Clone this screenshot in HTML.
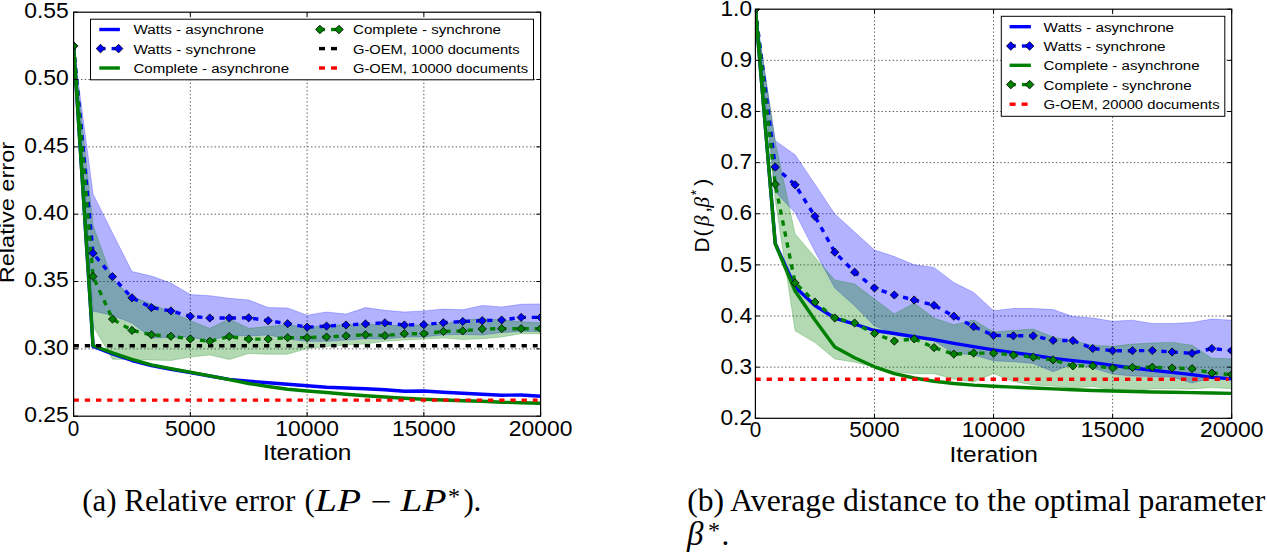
<!DOCTYPE html><html><head><meta charset="utf-8"><style>html,body{margin:0;padding:0;background:#fff;overflow:hidden}svg{display:block}</style></head><body><svg width="1267" height="552" viewBox="0 0 1267 552"><rect width="1267" height="552" fill="#fff"/><clipPath id="c1"><rect x="73.6" y="12.2" width="467" height="404"/></clipPath><line x1="190.35" y1="12.2" x2="190.35" y2="416.2" stroke="#3a3a3a" stroke-width="0.85" stroke-dasharray="1.4 2.31"/><line x1="307.1" y1="12.2" x2="307.1" y2="416.2" stroke="#3a3a3a" stroke-width="0.85" stroke-dasharray="1.4 2.31"/><line x1="423.85" y1="12.2" x2="423.85" y2="416.2" stroke="#3a3a3a" stroke-width="0.85" stroke-dasharray="1.4 2.31"/><line x1="73.6" y1="348.87" x2="540.6" y2="348.87" stroke="#3a3a3a" stroke-width="0.85" stroke-dasharray="1.4 2.31"/><line x1="73.6" y1="281.53" x2="540.6" y2="281.53" stroke="#3a3a3a" stroke-width="0.85" stroke-dasharray="1.4 2.31"/><line x1="73.6" y1="214.2" x2="540.6" y2="214.2" stroke="#3a3a3a" stroke-width="0.85" stroke-dasharray="1.4 2.31"/><line x1="73.6" y1="146.87" x2="540.6" y2="146.87" stroke="#3a3a3a" stroke-width="0.85" stroke-dasharray="1.4 2.31"/><line x1="73.6" y1="79.53" x2="540.6" y2="79.53" stroke="#3a3a3a" stroke-width="0.85" stroke-dasharray="1.4 2.31"/><polygon points="73.6,45.9 93.06,194 112.52,233 131.97,271.6 151.43,276 170.89,283 190.35,294.6 209.81,295.7 229.27,298.3 248.72,300 268.18,307.6 287.64,308 307.1,315.2 326.56,312 346.02,314.1 365.48,307.6 384.93,310.3 404.39,312 423.85,310.9 443.31,309.1 462.77,309.8 482.23,305.4 501.68,307 521.14,304.3 540.6,303.9 540.6,331.5 521.14,331.5 501.68,332.6 482.23,335 462.77,334.5 443.31,334.8 423.85,337 404.39,337 384.93,339 365.48,338.7 346.02,340 326.56,341.3 307.1,341.3 287.64,339 268.18,335 248.72,336 229.27,335 209.81,341 190.35,337 170.89,337.5 151.43,338 131.97,323 112.52,315.5 93.06,311 73.6,45.9" fill="rgba(0,0,255,0.3)" stroke="rgba(0,0,255,0.3)" stroke-width="0.8" stroke-linejoin="round" clip-path="url(#c1)"/><polygon points="73.6,45.9 93.06,225 112.52,280 131.97,296.5 151.43,304 170.89,312 190.35,320.7 209.81,328.3 229.27,319.1 248.72,328.3 268.18,326.5 287.64,324.5 307.1,327.8 326.56,325 346.02,325 365.48,324 384.93,325.3 404.39,325.6 423.85,325 443.31,324 462.77,320.2 482.23,318.5 501.68,320 521.14,321.7 540.6,322.8 540.6,333.7 521.14,333.7 501.68,337 482.23,338.7 462.77,339.5 443.31,338 423.85,339 404.39,340 384.93,341.3 365.48,344 346.02,345 326.56,346.5 307.1,348.5 287.64,354.2 268.18,354.2 248.72,353.5 229.27,359.5 209.81,355 190.35,357 170.89,360.5 151.43,360 131.97,359.5 112.52,359.3 93.06,326 73.6,45.9" fill="rgba(0,128,0,0.3)" stroke="rgba(0,128,0,0.3)" stroke-width="0.8" stroke-linejoin="round" clip-path="url(#c1)"/><polyline points="73.6,45.9 93.06,346.5 112.52,354 131.97,360.5 151.43,365.5 170.89,369.3 190.35,372.6 209.81,376 229.27,379.4 248.72,381.2 268.18,382.7 287.64,384.2 307.1,385.7 326.56,387.2 346.02,388 365.48,388.7 384.93,389.8 404.39,391.3 423.85,391 443.31,392.2 462.77,393.2 482.23,394.3 501.68,395.2 521.14,395 540.6,396.2" fill="none" stroke="#0000ff" stroke-width="3.4" stroke-linejoin="round" clip-path="url(#c1)"/><polyline points="73.6,45.9 93.06,253.3 112.52,276.7 131.97,297.8 151.43,307.6 170.89,310.9 190.35,316.3 209.81,318 229.27,318 248.72,317.8 268.18,320.7 287.64,323.7 307.1,327.2 326.56,326.1 346.02,325 365.48,323.9 384.93,322.8 404.39,325 423.85,324.6 443.31,322.8 462.77,321.5 482.23,320.7 501.68,320 521.14,317.4 540.6,317.4" fill="none" stroke="#0000ff" stroke-width="3.4" stroke-dasharray="5.3 5.9" clip-path="url(#c1)"/><polyline points="73.6,45.9 93.06,345.5 112.52,352.8 131.97,359.3 151.43,364.8 170.89,368.6 190.35,372.2 209.81,375.8 229.27,379.7 248.72,383.5 268.18,386.5 287.64,389.2 307.1,391 326.56,392.5 346.02,394.3 365.48,395.8 384.93,397 404.39,398.2 423.85,399.2 443.31,400 462.77,400.7 482.23,401.2 501.68,402.2 521.14,402.7 540.6,403.3" fill="none" stroke="#008000" stroke-width="3.4" stroke-linejoin="round" clip-path="url(#c1)"/><polyline points="73.6,45.9 93.06,276.5 112.52,319.1 131.97,330.4 151.43,334.8 170.89,336.3 190.35,338.9 209.81,341.3 229.27,336.5 248.72,339.1 268.18,339.1 287.64,337.7 307.1,337.6 326.56,337 346.02,335.9 365.48,334.8 384.93,335.6 404.39,333.7 423.85,333.7 443.31,331.5 462.77,330.9 482.23,329 501.68,328.7 521.14,328.7 540.6,328.7" fill="none" stroke="#008000" stroke-width="3.4" stroke-dasharray="5.3 5.9" clip-path="url(#c1)"/><line x1="73.6" y1="345.7" x2="537.6" y2="345.7" stroke="#000" stroke-width="3.4" stroke-dasharray="5.3 5.9"/><line x1="73.6" y1="400.1" x2="537.6" y2="400.1" stroke="#ff0000" stroke-width="3.4" stroke-dasharray="5.3 5.9"/><g clip-path="url(#c1)"><path d="M73.6 41.8L77.7 45.9L73.6 50L69.5 45.9Z" fill="#0000ff" stroke="#000" stroke-width="0.8"/><path d="M93.06 249.2L97.16 253.3L93.06 257.4L88.96 253.3Z" fill="#0000ff" stroke="#000" stroke-width="0.8"/><path d="M112.52 272.6L116.62 276.7L112.52 280.8L108.42 276.7Z" fill="#0000ff" stroke="#000" stroke-width="0.8"/><path d="M131.97 293.7L136.07 297.8L131.97 301.9L127.88 297.8Z" fill="#0000ff" stroke="#000" stroke-width="0.8"/><path d="M151.43 303.5L155.53 307.6L151.43 311.7L147.33 307.6Z" fill="#0000ff" stroke="#000" stroke-width="0.8"/><path d="M170.89 306.8L174.99 310.9L170.89 315L166.79 310.9Z" fill="#0000ff" stroke="#000" stroke-width="0.8"/><path d="M190.35 312.2L194.45 316.3L190.35 320.4L186.25 316.3Z" fill="#0000ff" stroke="#000" stroke-width="0.8"/><path d="M209.81 313.9L213.91 318L209.81 322.1L205.71 318Z" fill="#0000ff" stroke="#000" stroke-width="0.8"/><path d="M229.27 313.9L233.37 318L229.27 322.1L225.17 318Z" fill="#0000ff" stroke="#000" stroke-width="0.8"/><path d="M248.72 313.7L252.82 317.8L248.72 321.9L244.62 317.8Z" fill="#0000ff" stroke="#000" stroke-width="0.8"/><path d="M268.18 316.6L272.28 320.7L268.18 324.8L264.08 320.7Z" fill="#0000ff" stroke="#000" stroke-width="0.8"/><path d="M287.64 319.6L291.74 323.7L287.64 327.8L283.54 323.7Z" fill="#0000ff" stroke="#000" stroke-width="0.8"/><path d="M307.1 323.1L311.2 327.2L307.1 331.3L303 327.2Z" fill="#0000ff" stroke="#000" stroke-width="0.8"/><path d="M326.56 322L330.66 326.1L326.56 330.2L322.46 326.1Z" fill="#0000ff" stroke="#000" stroke-width="0.8"/><path d="M346.02 320.9L350.12 325L346.02 329.1L341.92 325Z" fill="#0000ff" stroke="#000" stroke-width="0.8"/><path d="M365.48 319.8L369.58 323.9L365.48 328L361.38 323.9Z" fill="#0000ff" stroke="#000" stroke-width="0.8"/><path d="M384.93 318.7L389.03 322.8L384.93 326.9L380.83 322.8Z" fill="#0000ff" stroke="#000" stroke-width="0.8"/><path d="M404.39 320.9L408.49 325L404.39 329.1L400.29 325Z" fill="#0000ff" stroke="#000" stroke-width="0.8"/><path d="M423.85 320.5L427.95 324.6L423.85 328.7L419.75 324.6Z" fill="#0000ff" stroke="#000" stroke-width="0.8"/><path d="M443.31 318.7L447.41 322.8L443.31 326.9L439.21 322.8Z" fill="#0000ff" stroke="#000" stroke-width="0.8"/><path d="M462.77 317.4L466.87 321.5L462.77 325.6L458.67 321.5Z" fill="#0000ff" stroke="#000" stroke-width="0.8"/><path d="M482.23 316.6L486.33 320.7L482.23 324.8L478.12 320.7Z" fill="#0000ff" stroke="#000" stroke-width="0.8"/><path d="M501.68 315.9L505.78 320L501.68 324.1L497.58 320Z" fill="#0000ff" stroke="#000" stroke-width="0.8"/><path d="M521.14 313.3L525.24 317.4L521.14 321.5L517.04 317.4Z" fill="#0000ff" stroke="#000" stroke-width="0.8"/><path d="M540.6 313.3L544.7 317.4L540.6 321.5L536.5 317.4Z" fill="#0000ff" stroke="#000" stroke-width="0.8"/><path d="M73.6 41.8L77.7 45.9L73.6 50L69.5 45.9Z" fill="#008000" stroke="#000" stroke-width="0.8"/><path d="M93.06 272.4L97.16 276.5L93.06 280.6L88.96 276.5Z" fill="#008000" stroke="#000" stroke-width="0.8"/><path d="M112.52 315L116.62 319.1L112.52 323.2L108.42 319.1Z" fill="#008000" stroke="#000" stroke-width="0.8"/><path d="M131.97 326.3L136.07 330.4L131.97 334.5L127.88 330.4Z" fill="#008000" stroke="#000" stroke-width="0.8"/><path d="M151.43 330.7L155.53 334.8L151.43 338.9L147.33 334.8Z" fill="#008000" stroke="#000" stroke-width="0.8"/><path d="M170.89 332.2L174.99 336.3L170.89 340.4L166.79 336.3Z" fill="#008000" stroke="#000" stroke-width="0.8"/><path d="M190.35 334.8L194.45 338.9L190.35 343L186.25 338.9Z" fill="#008000" stroke="#000" stroke-width="0.8"/><path d="M209.81 337.2L213.91 341.3L209.81 345.4L205.71 341.3Z" fill="#008000" stroke="#000" stroke-width="0.8"/><path d="M229.27 332.4L233.37 336.5L229.27 340.6L225.17 336.5Z" fill="#008000" stroke="#000" stroke-width="0.8"/><path d="M248.72 335L252.82 339.1L248.72 343.2L244.62 339.1Z" fill="#008000" stroke="#000" stroke-width="0.8"/><path d="M268.18 335L272.28 339.1L268.18 343.2L264.08 339.1Z" fill="#008000" stroke="#000" stroke-width="0.8"/><path d="M287.64 333.6L291.74 337.7L287.64 341.8L283.54 337.7Z" fill="#008000" stroke="#000" stroke-width="0.8"/><path d="M307.1 333.5L311.2 337.6L307.1 341.7L303 337.6Z" fill="#008000" stroke="#000" stroke-width="0.8"/><path d="M326.56 332.9L330.66 337L326.56 341.1L322.46 337Z" fill="#008000" stroke="#000" stroke-width="0.8"/><path d="M346.02 331.8L350.12 335.9L346.02 340L341.92 335.9Z" fill="#008000" stroke="#000" stroke-width="0.8"/><path d="M365.48 330.7L369.58 334.8L365.48 338.9L361.38 334.8Z" fill="#008000" stroke="#000" stroke-width="0.8"/><path d="M384.93 331.5L389.03 335.6L384.93 339.7L380.83 335.6Z" fill="#008000" stroke="#000" stroke-width="0.8"/><path d="M404.39 329.6L408.49 333.7L404.39 337.8L400.29 333.7Z" fill="#008000" stroke="#000" stroke-width="0.8"/><path d="M423.85 329.6L427.95 333.7L423.85 337.8L419.75 333.7Z" fill="#008000" stroke="#000" stroke-width="0.8"/><path d="M443.31 327.4L447.41 331.5L443.31 335.6L439.21 331.5Z" fill="#008000" stroke="#000" stroke-width="0.8"/><path d="M462.77 326.8L466.87 330.9L462.77 335L458.67 330.9Z" fill="#008000" stroke="#000" stroke-width="0.8"/><path d="M482.23 324.9L486.33 329L482.23 333.1L478.12 329Z" fill="#008000" stroke="#000" stroke-width="0.8"/><path d="M501.68 324.6L505.78 328.7L501.68 332.8L497.58 328.7Z" fill="#008000" stroke="#000" stroke-width="0.8"/><path d="M521.14 324.6L525.24 328.7L521.14 332.8L517.04 328.7Z" fill="#008000" stroke="#000" stroke-width="0.8"/><path d="M540.6 324.6L544.7 328.7L540.6 332.8L536.5 328.7Z" fill="#008000" stroke="#000" stroke-width="0.8"/></g><rect x="73.6" y="12.2" width="467" height="404" fill="none" stroke="#000" stroke-width="1.2"/><line x1="73.6" y1="416.2" x2="73.6" y2="411.9" stroke="#000" stroke-width="1"/><line x1="73.6" y1="12.2" x2="73.6" y2="16.5" stroke="#000" stroke-width="1"/><line x1="190.35" y1="416.2" x2="190.35" y2="411.9" stroke="#000" stroke-width="1"/><line x1="190.35" y1="12.2" x2="190.35" y2="16.5" stroke="#000" stroke-width="1"/><line x1="307.1" y1="416.2" x2="307.1" y2="411.9" stroke="#000" stroke-width="1"/><line x1="307.1" y1="12.2" x2="307.1" y2="16.5" stroke="#000" stroke-width="1"/><line x1="423.85" y1="416.2" x2="423.85" y2="411.9" stroke="#000" stroke-width="1"/><line x1="423.85" y1="12.2" x2="423.85" y2="16.5" stroke="#000" stroke-width="1"/><line x1="540.6" y1="416.2" x2="540.6" y2="411.9" stroke="#000" stroke-width="1"/><line x1="540.6" y1="12.2" x2="540.6" y2="16.5" stroke="#000" stroke-width="1"/><line x1="73.6" y1="416.2" x2="77.9" y2="416.2" stroke="#000" stroke-width="1"/><line x1="540.6" y1="416.2" x2="536.3" y2="416.2" stroke="#000" stroke-width="1"/><line x1="73.6" y1="348.87" x2="77.9" y2="348.87" stroke="#000" stroke-width="1"/><line x1="540.6" y1="348.87" x2="536.3" y2="348.87" stroke="#000" stroke-width="1"/><line x1="73.6" y1="281.53" x2="77.9" y2="281.53" stroke="#000" stroke-width="1"/><line x1="540.6" y1="281.53" x2="536.3" y2="281.53" stroke="#000" stroke-width="1"/><line x1="73.6" y1="214.2" x2="77.9" y2="214.2" stroke="#000" stroke-width="1"/><line x1="540.6" y1="214.2" x2="536.3" y2="214.2" stroke="#000" stroke-width="1"/><line x1="73.6" y1="146.87" x2="77.9" y2="146.87" stroke="#000" stroke-width="1"/><line x1="540.6" y1="146.87" x2="536.3" y2="146.87" stroke="#000" stroke-width="1"/><line x1="73.6" y1="79.53" x2="77.9" y2="79.53" stroke="#000" stroke-width="1"/><line x1="540.6" y1="79.53" x2="536.3" y2="79.53" stroke="#000" stroke-width="1"/><line x1="73.6" y1="12.2" x2="77.9" y2="12.2" stroke="#000" stroke-width="1"/><line x1="540.6" y1="12.2" x2="536.3" y2="12.2" stroke="#000" stroke-width="1"/><text x="68.8" y="421.9" font-size="21.8" text-anchor="end" textLength="44.5" lengthAdjust="spacingAndGlyphs" font-family='"Liberation Sans", sans-serif'>0.25</text><text x="68.8" y="354.57" font-size="21.8" text-anchor="end" textLength="44.5" lengthAdjust="spacingAndGlyphs" font-family='"Liberation Sans", sans-serif'>0.30</text><text x="68.8" y="287.23" font-size="21.8" text-anchor="end" textLength="44.5" lengthAdjust="spacingAndGlyphs" font-family='"Liberation Sans", sans-serif'>0.35</text><text x="68.8" y="219.9" font-size="21.8" text-anchor="end" textLength="44.5" lengthAdjust="spacingAndGlyphs" font-family='"Liberation Sans", sans-serif'>0.40</text><text x="68.8" y="152.57" font-size="21.8" text-anchor="end" textLength="44.5" lengthAdjust="spacingAndGlyphs" font-family='"Liberation Sans", sans-serif'>0.45</text><text x="68.8" y="85.23" font-size="21.8" text-anchor="end" textLength="44.5" lengthAdjust="spacingAndGlyphs" font-family='"Liberation Sans", sans-serif'>0.50</text><text x="68.8" y="17.9" font-size="21.8" text-anchor="end" textLength="44.5" lengthAdjust="spacingAndGlyphs" font-family='"Liberation Sans", sans-serif'>0.55</text><text x="73.6" y="435.6" font-size="21.8" text-anchor="middle" textLength="11.5" lengthAdjust="spacingAndGlyphs" font-family='"Liberation Sans", sans-serif'>0</text><text x="190.35" y="435.6" font-size="21.8" text-anchor="middle" textLength="50.5" lengthAdjust="spacingAndGlyphs" font-family='"Liberation Sans", sans-serif'>5000</text><text x="307.1" y="435.6" font-size="21.8" text-anchor="middle" textLength="63.5" lengthAdjust="spacingAndGlyphs" font-family='"Liberation Sans", sans-serif'>10000</text><text x="423.85" y="435.6" font-size="21.8" text-anchor="middle" textLength="63.5" lengthAdjust="spacingAndGlyphs" font-family='"Liberation Sans", sans-serif'>15000</text><text x="540.6" y="435.6" font-size="21.8" text-anchor="middle" textLength="63.5" lengthAdjust="spacingAndGlyphs" font-family='"Liberation Sans", sans-serif'>20000</text><text x="307.2" y="459.8" font-size="21.4" text-anchor="middle" textLength="88.5" lengthAdjust="spacingAndGlyphs" font-family='"Liberation Sans", sans-serif'>Iteration</text><text transform="translate(14.2,212.6) rotate(-90)" x="0" y="0" font-size="20.6" text-anchor="middle" textLength="141.5" lengthAdjust="spacingAndGlyphs" font-family='"Liberation Sans", sans-serif'>Relative error</text><rect x="90.5" y="19.2" width="443" height="60.6" fill="#fff" stroke="#000" stroke-width="1"/><line x1="99.3" y1="29.5" x2="119.9" y2="29.5" stroke="#0000ff" stroke-width="3.4"/><line x1="99.3" y1="48.6" x2="105.5" y2="48.6" stroke="#0000ff" stroke-width="3.4"/><line x1="111.6" y1="48.6" x2="119.9" y2="48.6" stroke="#0000ff" stroke-width="3.4"/><path d="M100.5 44.3L104.8 48.6L100.5 52.9L96.2 48.6Z" fill="#0000ff" stroke="#000" stroke-width="0.8"/><path d="M118.6 44.3L122.9 48.6L118.6 52.9L114.3 48.6Z" fill="#0000ff" stroke="#000" stroke-width="0.8"/><line x1="99.3" y1="68" x2="119.9" y2="68" stroke="#008000" stroke-width="3.4"/><line x1="318.7" y1="29.5" x2="324.9" y2="29.5" stroke="#008000" stroke-width="3.4"/><line x1="331" y1="29.5" x2="340.3" y2="29.5" stroke="#008000" stroke-width="3.4"/><path d="M319.9 25.2L324.2 29.5L319.9 33.8L315.6 29.5Z" fill="#008000" stroke="#000" stroke-width="0.8"/><path d="M339 25.2L343.3 29.5L339 33.8L334.7 29.5Z" fill="#008000" stroke="#000" stroke-width="0.8"/><line x1="319" y1="48.6" x2="325" y2="48.6" stroke="#000" stroke-width="3.4"/><line x1="331" y1="48.6" x2="337" y2="48.6" stroke="#000" stroke-width="3.4"/><line x1="319" y1="68" x2="325" y2="68" stroke="#ff0000" stroke-width="3.4"/><line x1="331" y1="68" x2="337" y2="68" stroke="#ff0000" stroke-width="3.4"/><text x="133.5" y="34.4" font-size="13.7" text-anchor="start" textLength="130.5" lengthAdjust="spacingAndGlyphs" font-family='"Liberation Sans", sans-serif'>Watts - asynchrone</text><text x="133.5" y="53.5" font-size="13.7" text-anchor="start" textLength="122.5" lengthAdjust="spacingAndGlyphs" font-family='"Liberation Sans", sans-serif'>Watts - synchrone</text><text x="133.5" y="72.9" font-size="13.7" text-anchor="start" textLength="155.5" lengthAdjust="spacingAndGlyphs" font-family='"Liberation Sans", sans-serif'>Complete - asynchrone</text><text x="353" y="34.4" font-size="13.7" text-anchor="start" textLength="148" lengthAdjust="spacingAndGlyphs" font-family='"Liberation Sans", sans-serif'>Complete - synchrone</text><text x="353" y="53.5" font-size="13.7" text-anchor="start" textLength="166.5" lengthAdjust="spacingAndGlyphs" font-family='"Liberation Sans", sans-serif'>G-OEM, 1000 documents</text><text x="353" y="72.9" font-size="13.7" text-anchor="start" textLength="175" lengthAdjust="spacingAndGlyphs" font-family='"Liberation Sans", sans-serif'>G-OEM, 10000 documents</text><clipPath id="c2"><rect x="755.4" y="9.2" width="476.3" height="409.1"/></clipPath><line x1="874.48" y1="9.2" x2="874.48" y2="418.3" stroke="#3a3a3a" stroke-width="0.85" stroke-dasharray="1.4 2.31"/><line x1="993.55" y1="9.2" x2="993.55" y2="418.3" stroke="#3a3a3a" stroke-width="0.85" stroke-dasharray="1.4 2.31"/><line x1="1112.62" y1="9.2" x2="1112.62" y2="418.3" stroke="#3a3a3a" stroke-width="0.85" stroke-dasharray="1.4 2.31"/><line x1="755.4" y1="367.16" x2="1231.7" y2="367.16" stroke="#3a3a3a" stroke-width="0.85" stroke-dasharray="1.4 2.31"/><line x1="755.4" y1="316.02" x2="1231.7" y2="316.02" stroke="#3a3a3a" stroke-width="0.85" stroke-dasharray="1.4 2.31"/><line x1="755.4" y1="264.89" x2="1231.7" y2="264.89" stroke="#3a3a3a" stroke-width="0.85" stroke-dasharray="1.4 2.31"/><line x1="755.4" y1="213.75" x2="1231.7" y2="213.75" stroke="#3a3a3a" stroke-width="0.85" stroke-dasharray="1.4 2.31"/><line x1="755.4" y1="162.61" x2="1231.7" y2="162.61" stroke="#3a3a3a" stroke-width="0.85" stroke-dasharray="1.4 2.31"/><line x1="755.4" y1="111.47" x2="1231.7" y2="111.47" stroke="#3a3a3a" stroke-width="0.85" stroke-dasharray="1.4 2.31"/><line x1="755.4" y1="60.34" x2="1231.7" y2="60.34" stroke="#3a3a3a" stroke-width="0.85" stroke-dasharray="1.4 2.31"/><polygon points="755.4,9.5 775.25,140.7 795.09,154.8 814.94,184.2 834.78,214 854.63,232 874.48,250 894.32,256.5 914.17,264.8 934.01,267.4 953.86,282.6 973.7,292.5 993.55,310.7 1013.4,308.5 1033.24,308.5 1053.09,309.6 1072.93,316.5 1092.78,318 1112.62,321.3 1132.47,320.2 1152.32,323.5 1172.16,323.5 1192.01,322.4 1211.85,319.1 1231.7,320.2 1231.7,378 1211.85,378 1192.01,383 1172.16,377 1152.32,376.5 1132.47,376 1112.62,374 1092.78,368 1072.93,364 1053.09,371.7 1033.24,363.5 1013.4,361.7 993.55,360.8 973.7,355 953.86,353 934.01,341 914.17,337 894.32,333 874.48,326 854.63,305.7 834.78,288 814.94,251.5 795.09,212.8 775.25,191.7 755.4,9.5" fill="rgba(0,0,255,0.3)" stroke="rgba(0,0,255,0.3)" stroke-width="0.8" stroke-linejoin="round" clip-path="url(#c2)"/><polygon points="755.4,9.5 775.25,142 795.09,233.8 814.94,257.3 834.78,280 854.63,284 874.48,299 894.32,313.9 914.17,303 934.01,318 953.86,324.8 973.7,320 993.55,332 1013.4,330.5 1033.24,329 1053.09,337 1072.93,341 1092.78,345.2 1112.62,346.3 1132.47,344.1 1152.32,343 1172.16,342.4 1192.01,345.2 1211.85,358.3 1231.7,358.7 1231.7,388.7 1211.85,387.6 1192.01,389 1172.16,388.7 1152.32,388.7 1132.47,391 1112.62,390 1092.78,386.5 1072.93,388 1053.09,386 1033.24,385 1013.4,381.6 993.55,373.5 973.7,382 953.86,379 934.01,373.7 914.17,373.7 894.32,372 874.48,367 854.63,362.2 834.78,358.9 814.94,342.6 795.09,330.7 775.25,200 755.4,9.5" fill="rgba(0,128,0,0.3)" stroke="rgba(0,128,0,0.3)" stroke-width="0.8" stroke-linejoin="round" clip-path="url(#c2)"/><polyline points="755.4,9.5 775.25,243.5 795.09,287 814.94,305.5 834.78,318 854.63,324.1 874.48,330.5 894.32,333.5 914.17,336.7 934.01,339.6 953.86,343.3 973.7,346.6 993.55,349.9 1013.4,352.6 1033.24,355.3 1053.09,358.4 1072.93,360.6 1092.78,362.6 1112.62,365.4 1132.47,368 1152.32,370.2 1172.16,372.4 1192.01,374.6 1211.85,377.4 1231.7,378.9" fill="none" stroke="#0000ff" stroke-width="3.4" stroke-linejoin="round" clip-path="url(#c2)"/><polyline points="755.4,9.5 775.25,167 795.09,184.8 814.94,216.3 834.78,252.2 854.63,272.2 874.48,288 894.32,295 914.17,300 934.01,305.3 953.86,316.2 973.7,326.7 993.55,335.3 1013.4,335.8 1033.24,335.8 1053.09,340.4 1072.93,340.6 1092.78,348.5 1112.62,350.7 1132.47,350.7 1152.32,350.5 1172.16,352 1192.01,353.3 1211.85,348.5 1231.7,350.7" fill="none" stroke="#0000ff" stroke-width="3.4" stroke-dasharray="5.3 5.9" clip-path="url(#c2)"/><polyline points="755.4,9.5 775.25,244 795.09,291 814.94,320 834.78,347 854.63,357.8 874.48,366.8 894.32,373.7 914.17,378 934.01,381.3 953.86,383.5 973.7,385.1 993.55,386.2 1013.4,387.1 1033.24,388 1053.09,388.9 1072.93,389.8 1092.78,390.5 1112.62,391 1132.47,391.5 1152.32,392 1172.16,392.3 1192.01,392.6 1211.85,393 1231.7,393.4" fill="none" stroke="#008000" stroke-width="3.4" stroke-linejoin="round" clip-path="url(#c2)"/><polyline points="755.4,9.5 775.25,184.3 795.09,283 814.94,302 834.78,318 854.63,323 874.48,333.5 894.32,341.1 914.17,338.9 934.01,347.6 953.86,354.1 973.7,353.1 993.55,353.2 1013.4,355 1033.24,357.2 1053.09,359.9 1072.93,365.9 1092.78,365.9 1112.62,368 1132.47,367.4 1152.32,367.2 1172.16,368 1192.01,368.7 1211.85,373 1231.7,374.6" fill="none" stroke="#008000" stroke-width="3.4" stroke-dasharray="5.3 5.9" clip-path="url(#c2)"/><line x1="755.4" y1="379.3" x2="1228.7" y2="379.3" stroke="#ff0000" stroke-width="3.4" stroke-dasharray="5.3 5.9"/><g clip-path="url(#c2)"><path d="M755.4 5.4L759.5 9.5L755.4 13.6L751.3 9.5Z" fill="#0000ff" stroke="#000" stroke-width="0.8"/><path d="M775.25 162.9L779.35 167L775.25 171.1L771.15 167Z" fill="#0000ff" stroke="#000" stroke-width="0.8"/><path d="M795.09 180.7L799.19 184.8L795.09 188.9L790.99 184.8Z" fill="#0000ff" stroke="#000" stroke-width="0.8"/><path d="M814.94 212.2L819.04 216.3L814.94 220.4L810.84 216.3Z" fill="#0000ff" stroke="#000" stroke-width="0.8"/><path d="M834.78 248.1L838.88 252.2L834.78 256.3L830.68 252.2Z" fill="#0000ff" stroke="#000" stroke-width="0.8"/><path d="M854.63 268.1L858.73 272.2L854.63 276.3L850.53 272.2Z" fill="#0000ff" stroke="#000" stroke-width="0.8"/><path d="M874.48 283.9L878.58 288L874.48 292.1L870.38 288Z" fill="#0000ff" stroke="#000" stroke-width="0.8"/><path d="M894.32 290.9L898.42 295L894.32 299.1L890.22 295Z" fill="#0000ff" stroke="#000" stroke-width="0.8"/><path d="M914.17 295.9L918.27 300L914.17 304.1L910.07 300Z" fill="#0000ff" stroke="#000" stroke-width="0.8"/><path d="M934.01 301.2L938.11 305.3L934.01 309.4L929.91 305.3Z" fill="#0000ff" stroke="#000" stroke-width="0.8"/><path d="M953.86 312.1L957.96 316.2L953.86 320.3L949.76 316.2Z" fill="#0000ff" stroke="#000" stroke-width="0.8"/><path d="M973.7 322.6L977.8 326.7L973.7 330.8L969.6 326.7Z" fill="#0000ff" stroke="#000" stroke-width="0.8"/><path d="M993.55 331.2L997.65 335.3L993.55 339.4L989.45 335.3Z" fill="#0000ff" stroke="#000" stroke-width="0.8"/><path d="M1013.4 331.7L1017.5 335.8L1013.4 339.9L1009.3 335.8Z" fill="#0000ff" stroke="#000" stroke-width="0.8"/><path d="M1033.24 331.7L1037.34 335.8L1033.24 339.9L1029.14 335.8Z" fill="#0000ff" stroke="#000" stroke-width="0.8"/><path d="M1053.09 336.3L1057.19 340.4L1053.09 344.5L1048.99 340.4Z" fill="#0000ff" stroke="#000" stroke-width="0.8"/><path d="M1072.93 336.5L1077.03 340.6L1072.93 344.7L1068.83 340.6Z" fill="#0000ff" stroke="#000" stroke-width="0.8"/><path d="M1092.78 344.4L1096.88 348.5L1092.78 352.6L1088.68 348.5Z" fill="#0000ff" stroke="#000" stroke-width="0.8"/><path d="M1112.62 346.6L1116.72 350.7L1112.62 354.8L1108.53 350.7Z" fill="#0000ff" stroke="#000" stroke-width="0.8"/><path d="M1132.47 346.6L1136.57 350.7L1132.47 354.8L1128.37 350.7Z" fill="#0000ff" stroke="#000" stroke-width="0.8"/><path d="M1152.32 346.4L1156.42 350.5L1152.32 354.6L1148.22 350.5Z" fill="#0000ff" stroke="#000" stroke-width="0.8"/><path d="M1172.16 347.9L1176.26 352L1172.16 356.1L1168.06 352Z" fill="#0000ff" stroke="#000" stroke-width="0.8"/><path d="M1192.01 349.2L1196.11 353.3L1192.01 357.4L1187.91 353.3Z" fill="#0000ff" stroke="#000" stroke-width="0.8"/><path d="M1211.85 344.4L1215.95 348.5L1211.85 352.6L1207.75 348.5Z" fill="#0000ff" stroke="#000" stroke-width="0.8"/><path d="M1231.7 346.6L1235.8 350.7L1231.7 354.8L1227.6 350.7Z" fill="#0000ff" stroke="#000" stroke-width="0.8"/><path d="M755.4 5.4L759.5 9.5L755.4 13.6L751.3 9.5Z" fill="#008000" stroke="#000" stroke-width="0.8"/><path d="M775.25 180.2L779.35 184.3L775.25 188.4L771.15 184.3Z" fill="#008000" stroke="#000" stroke-width="0.8"/><path d="M795.09 278.9L799.19 283L795.09 287.1L790.99 283Z" fill="#008000" stroke="#000" stroke-width="0.8"/><path d="M814.94 297.9L819.04 302L814.94 306.1L810.84 302Z" fill="#008000" stroke="#000" stroke-width="0.8"/><path d="M834.78 313.9L838.88 318L834.78 322.1L830.68 318Z" fill="#008000" stroke="#000" stroke-width="0.8"/><path d="M854.63 318.9L858.73 323L854.63 327.1L850.53 323Z" fill="#008000" stroke="#000" stroke-width="0.8"/><path d="M874.48 329.4L878.58 333.5L874.48 337.6L870.38 333.5Z" fill="#008000" stroke="#000" stroke-width="0.8"/><path d="M894.32 337L898.42 341.1L894.32 345.2L890.22 341.1Z" fill="#008000" stroke="#000" stroke-width="0.8"/><path d="M914.17 334.8L918.27 338.9L914.17 343L910.07 338.9Z" fill="#008000" stroke="#000" stroke-width="0.8"/><path d="M934.01 343.5L938.11 347.6L934.01 351.7L929.91 347.6Z" fill="#008000" stroke="#000" stroke-width="0.8"/><path d="M953.86 350L957.96 354.1L953.86 358.2L949.76 354.1Z" fill="#008000" stroke="#000" stroke-width="0.8"/><path d="M973.7 349L977.8 353.1L973.7 357.2L969.6 353.1Z" fill="#008000" stroke="#000" stroke-width="0.8"/><path d="M993.55 349.1L997.65 353.2L993.55 357.3L989.45 353.2Z" fill="#008000" stroke="#000" stroke-width="0.8"/><path d="M1013.4 350.9L1017.5 355L1013.4 359.1L1009.3 355Z" fill="#008000" stroke="#000" stroke-width="0.8"/><path d="M1033.24 353.1L1037.34 357.2L1033.24 361.3L1029.14 357.2Z" fill="#008000" stroke="#000" stroke-width="0.8"/><path d="M1053.09 355.8L1057.19 359.9L1053.09 364L1048.99 359.9Z" fill="#008000" stroke="#000" stroke-width="0.8"/><path d="M1072.93 361.8L1077.03 365.9L1072.93 370L1068.83 365.9Z" fill="#008000" stroke="#000" stroke-width="0.8"/><path d="M1092.78 361.8L1096.88 365.9L1092.78 370L1088.68 365.9Z" fill="#008000" stroke="#000" stroke-width="0.8"/><path d="M1112.62 363.9L1116.72 368L1112.62 372.1L1108.53 368Z" fill="#008000" stroke="#000" stroke-width="0.8"/><path d="M1132.47 363.3L1136.57 367.4L1132.47 371.5L1128.37 367.4Z" fill="#008000" stroke="#000" stroke-width="0.8"/><path d="M1152.32 363.1L1156.42 367.2L1152.32 371.3L1148.22 367.2Z" fill="#008000" stroke="#000" stroke-width="0.8"/><path d="M1172.16 363.9L1176.26 368L1172.16 372.1L1168.06 368Z" fill="#008000" stroke="#000" stroke-width="0.8"/><path d="M1192.01 364.6L1196.11 368.7L1192.01 372.8L1187.91 368.7Z" fill="#008000" stroke="#000" stroke-width="0.8"/><path d="M1211.85 368.9L1215.95 373L1211.85 377.1L1207.75 373Z" fill="#008000" stroke="#000" stroke-width="0.8"/><path d="M1231.7 370.5L1235.8 374.6L1231.7 378.7L1227.6 374.6Z" fill="#008000" stroke="#000" stroke-width="0.8"/></g><rect x="755.4" y="9.2" width="476.3" height="409.1" fill="none" stroke="#000" stroke-width="1.2"/><line x1="755.4" y1="418.3" x2="755.4" y2="414" stroke="#000" stroke-width="1"/><line x1="755.4" y1="9.2" x2="755.4" y2="13.5" stroke="#000" stroke-width="1"/><line x1="874.48" y1="418.3" x2="874.48" y2="414" stroke="#000" stroke-width="1"/><line x1="874.48" y1="9.2" x2="874.48" y2="13.5" stroke="#000" stroke-width="1"/><line x1="993.55" y1="418.3" x2="993.55" y2="414" stroke="#000" stroke-width="1"/><line x1="993.55" y1="9.2" x2="993.55" y2="13.5" stroke="#000" stroke-width="1"/><line x1="1112.62" y1="418.3" x2="1112.62" y2="414" stroke="#000" stroke-width="1"/><line x1="1112.62" y1="9.2" x2="1112.62" y2="13.5" stroke="#000" stroke-width="1"/><line x1="1231.7" y1="418.3" x2="1231.7" y2="414" stroke="#000" stroke-width="1"/><line x1="1231.7" y1="9.2" x2="1231.7" y2="13.5" stroke="#000" stroke-width="1"/><line x1="755.4" y1="418.3" x2="759.7" y2="418.3" stroke="#000" stroke-width="1"/><line x1="1231.7" y1="418.3" x2="1227.4" y2="418.3" stroke="#000" stroke-width="1"/><line x1="755.4" y1="367.16" x2="759.7" y2="367.16" stroke="#000" stroke-width="1"/><line x1="1231.7" y1="367.16" x2="1227.4" y2="367.16" stroke="#000" stroke-width="1"/><line x1="755.4" y1="316.02" x2="759.7" y2="316.02" stroke="#000" stroke-width="1"/><line x1="1231.7" y1="316.02" x2="1227.4" y2="316.02" stroke="#000" stroke-width="1"/><line x1="755.4" y1="264.89" x2="759.7" y2="264.89" stroke="#000" stroke-width="1"/><line x1="1231.7" y1="264.89" x2="1227.4" y2="264.89" stroke="#000" stroke-width="1"/><line x1="755.4" y1="213.75" x2="759.7" y2="213.75" stroke="#000" stroke-width="1"/><line x1="1231.7" y1="213.75" x2="1227.4" y2="213.75" stroke="#000" stroke-width="1"/><line x1="755.4" y1="162.61" x2="759.7" y2="162.61" stroke="#000" stroke-width="1"/><line x1="1231.7" y1="162.61" x2="1227.4" y2="162.61" stroke="#000" stroke-width="1"/><line x1="755.4" y1="111.47" x2="759.7" y2="111.47" stroke="#000" stroke-width="1"/><line x1="1231.7" y1="111.47" x2="1227.4" y2="111.47" stroke="#000" stroke-width="1"/><line x1="755.4" y1="60.34" x2="759.7" y2="60.34" stroke="#000" stroke-width="1"/><line x1="1231.7" y1="60.34" x2="1227.4" y2="60.34" stroke="#000" stroke-width="1"/><line x1="755.4" y1="9.2" x2="759.7" y2="9.2" stroke="#000" stroke-width="1"/><line x1="1231.7" y1="9.2" x2="1227.4" y2="9.2" stroke="#000" stroke-width="1"/><text x="752" y="425" font-size="21.8" text-anchor="end" textLength="31.5" lengthAdjust="spacingAndGlyphs" font-family='"Liberation Sans", sans-serif'>0.2</text><text x="752" y="373.86" font-size="21.8" text-anchor="end" textLength="31.5" lengthAdjust="spacingAndGlyphs" font-family='"Liberation Sans", sans-serif'>0.3</text><text x="752" y="322.72" font-size="21.8" text-anchor="end" textLength="31.5" lengthAdjust="spacingAndGlyphs" font-family='"Liberation Sans", sans-serif'>0.4</text><text x="752" y="271.59" font-size="21.8" text-anchor="end" textLength="31.5" lengthAdjust="spacingAndGlyphs" font-family='"Liberation Sans", sans-serif'>0.5</text><text x="752" y="220.45" font-size="21.8" text-anchor="end" textLength="31.5" lengthAdjust="spacingAndGlyphs" font-family='"Liberation Sans", sans-serif'>0.6</text><text x="752" y="169.31" font-size="21.8" text-anchor="end" textLength="31.5" lengthAdjust="spacingAndGlyphs" font-family='"Liberation Sans", sans-serif'>0.7</text><text x="752" y="118.17" font-size="21.8" text-anchor="end" textLength="31.5" lengthAdjust="spacingAndGlyphs" font-family='"Liberation Sans", sans-serif'>0.8</text><text x="752" y="67.04" font-size="21.8" text-anchor="end" textLength="31.5" lengthAdjust="spacingAndGlyphs" font-family='"Liberation Sans", sans-serif'>0.9</text><text x="752" y="15.9" font-size="21.8" text-anchor="end" textLength="31.5" lengthAdjust="spacingAndGlyphs" font-family='"Liberation Sans", sans-serif'>1.0</text><text x="755.4" y="437" font-size="21.8" text-anchor="middle" textLength="11.5" lengthAdjust="spacingAndGlyphs" font-family='"Liberation Sans", sans-serif'>0</text><text x="874.48" y="437" font-size="21.8" text-anchor="middle" textLength="50.5" lengthAdjust="spacingAndGlyphs" font-family='"Liberation Sans", sans-serif'>5000</text><text x="993.55" y="437" font-size="21.8" text-anchor="middle" textLength="63.5" lengthAdjust="spacingAndGlyphs" font-family='"Liberation Sans", sans-serif'>10000</text><text x="1112.62" y="437" font-size="21.8" text-anchor="middle" textLength="63.5" lengthAdjust="spacingAndGlyphs" font-family='"Liberation Sans", sans-serif'>15000</text><text x="1231.7" y="437" font-size="21.8" text-anchor="middle" textLength="63.5" lengthAdjust="spacingAndGlyphs" font-family='"Liberation Sans", sans-serif'>20000</text><text x="993.7" y="461.5" font-size="21.4" text-anchor="middle" textLength="88.5" lengthAdjust="spacingAndGlyphs" font-family='"Liberation Sans", sans-serif'>Iteration</text><g transform="translate(708.9,251.3) rotate(-90)"><text x="-1.2" y="0" font-size="20.9" text-anchor="start" font-family='"Liberation Sans", sans-serif'>D</text><text x="14.8" y="0" font-size="20.9" text-anchor="start" font-family='"Liberation Sans", sans-serif'>(</text><text x="25" y="0" font-size="21.5" text-anchor="start" font-family='"Liberation Serif", serif' font-style="italic">β</text><text x="38.5" y="0" font-size="20.9" text-anchor="start" font-family='"Liberation Sans", sans-serif'>,</text><text x="43.5" y="0" font-size="21.5" text-anchor="start" font-family='"Liberation Serif", serif' font-style="italic">β</text><text x="56" y="-7.5" font-size="14" text-anchor="start" font-family='"Liberation Sans", sans-serif'>*</text><text x="65.5" y="0" font-size="20.9" text-anchor="start" font-family='"Liberation Sans", sans-serif'>)</text></g><rect x="1001.3" y="16.3" width="223.5" height="100" fill="#fff" stroke="#000" stroke-width="1"/><line x1="1009.6" y1="26.7" x2="1030.9" y2="26.7" stroke="#0000ff" stroke-width="3.4"/><line x1="1009.6" y1="46" x2="1015.8" y2="46" stroke="#0000ff" stroke-width="3.4"/><line x1="1021.9" y1="46" x2="1030.9" y2="46" stroke="#0000ff" stroke-width="3.4"/><path d="M1010.8 41.7L1015.1 46L1010.8 50.3L1006.5 46Z" fill="#0000ff" stroke="#000" stroke-width="0.8"/><path d="M1029.6 41.7L1033.9 46L1029.6 50.3L1025.3 46Z" fill="#0000ff" stroke="#000" stroke-width="0.8"/><line x1="1009.6" y1="65.3" x2="1030.9" y2="65.3" stroke="#008000" stroke-width="3.4"/><line x1="1009.6" y1="84.6" x2="1015.8" y2="84.6" stroke="#008000" stroke-width="3.4"/><line x1="1021.9" y1="84.6" x2="1030.9" y2="84.6" stroke="#008000" stroke-width="3.4"/><path d="M1010.8 80.3L1015.1 84.6L1010.8 88.9L1006.5 84.6Z" fill="#008000" stroke="#000" stroke-width="0.8"/><path d="M1029.6 80.3L1033.9 84.6L1029.6 88.9L1025.3 84.6Z" fill="#008000" stroke="#000" stroke-width="0.8"/><line x1="1009.6" y1="104.2" x2="1015.6" y2="104.2" stroke="#ff0000" stroke-width="3.4"/><line x1="1021.6" y1="104.2" x2="1027.6" y2="104.2" stroke="#ff0000" stroke-width="3.4"/><text x="1043.6" y="31.6" font-size="13.7" text-anchor="start" textLength="130.5" lengthAdjust="spacingAndGlyphs" font-family='"Liberation Sans", sans-serif'>Watts - asynchrone</text><text x="1043.6" y="50.9" font-size="13.7" text-anchor="start" textLength="122" lengthAdjust="spacingAndGlyphs" font-family='"Liberation Sans", sans-serif'>Watts - synchrone</text><text x="1043.6" y="70.2" font-size="13.7" text-anchor="start" textLength="156" lengthAdjust="spacingAndGlyphs" font-family='"Liberation Sans", sans-serif'>Complete - asynchrone</text><text x="1043.6" y="89.5" font-size="13.7" text-anchor="start" textLength="148" lengthAdjust="spacingAndGlyphs" font-family='"Liberation Sans", sans-serif'>Complete - synchrone</text><text x="1043.6" y="109.1" font-size="13.7" text-anchor="start" textLength="176" lengthAdjust="spacingAndGlyphs" font-family='"Liberation Sans", sans-serif'>G-OEM, 20000 documents</text><text x="82.2" y="510.7" font-size="31" text-anchor="start" textLength="213" lengthAdjust="spacingAndGlyphs" font-family='"Liberation Serif", serif'>(a) Relative error</text><text x="304.5" y="510.7" font-size="31" text-anchor="start" font-family='"Liberation Serif", serif'>(</text><text x="315" y="510.7" font-size="31" text-anchor="start" textLength="46" lengthAdjust="spacingAndGlyphs" font-family='"Liberation Serif", serif' font-style="italic">LP</text><text x="370.5" y="512" font-size="31" text-anchor="start" textLength="21" lengthAdjust="spacingAndGlyphs" font-family='"Liberation Serif", serif'>−</text><text x="400.5" y="510.7" font-size="31" text-anchor="start" textLength="46" lengthAdjust="spacingAndGlyphs" font-family='"Liberation Serif", serif' font-style="italic">LP</text><text x="448" y="503.5" font-size="24" text-anchor="start" font-family='"Liberation Serif", serif'>*</text><text x="463.5" y="510.7" font-size="31" text-anchor="start" font-family='"Liberation Serif", serif'>)</text><text x="473.5" y="510.7" font-size="31" text-anchor="start" font-family='"Liberation Serif", serif'>.</text><text x="687.2" y="510.7" font-size="31" textLength="578" lengthAdjust="spacingAndGlyphs" font-family='"Liberation Serif", serif'>(b) Average distance to the optimal parameter</text><text x="687" y="545.2" font-size="33" text-anchor="start" font-family='"Liberation Serif", serif' font-style="italic">β</text><text x="708" y="537.5" font-size="24" text-anchor="start" font-family='"Liberation Serif", serif'>*</text><text x="721.5" y="545.2" font-size="31" text-anchor="start" font-family='"Liberation Serif", serif'>.</text></svg></body></html>
